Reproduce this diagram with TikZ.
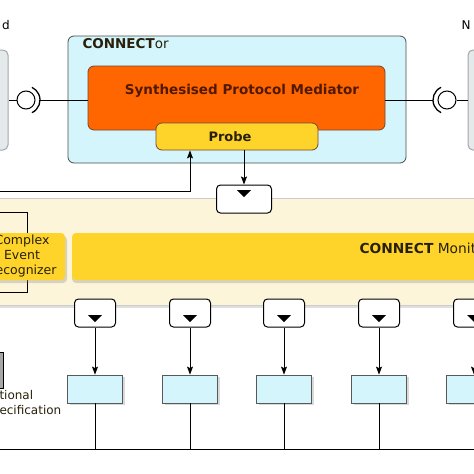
\documentclass[tikz,border=0pt]{standalone}
\usepackage{fontspec}
\setmainfont{DejaVu Sans}
\usetikzlibrary{positioning,shadows,arrows.meta}

\definecolor{connblue}{RGB}{213,245,252}
\definecolor{medorange}{RGB}{255,102,0}
\definecolor{medtext}{RGB}{80,25,0}
\definecolor{monyellow}{RGB}{255,212,42}
\definecolor{bandbeige}{RGB}{253,245,218}
\definecolor{sidegray}{RGB}{228,233,236}
\definecolor{darktext}{RGB}{40,32,10}

\tikzset{
  sidebox/.style={draw=gray!70, fill=sidegray, rounded corners=5pt, minimum width=30pt, minimum height=100pt},
  ball/.style={circle, draw, fill=white, line width=1pt, minimum size=18pt},
  socket/.style={line width=1.3pt},
  evbox/.style={draw, fill=white, line width=1pt, rounded corners=4pt, minimum width=41pt, minimum height=28pt},
  evhigh/.style={path picture={\fill[black, sharp corners] (path picture bounding box.north) ++(-7pt,-5pt) -- ++(14pt,0) -- ++(-7pt,-7pt) -- cycle;}},
  evlow/.style={path picture={\fill[black, sharp corners] (path picture bounding box.south) ++(-7pt,12pt) -- ++(14pt,0) -- ++(-7pt,-7pt) -- cycle;}},
  specbox/.style={draw=gray!70!black, fill=connblue, line width=0.8pt, minimum width=55pt, minimum height=28pt,
    drop shadow={shadow xshift=2pt, shadow yshift=-2pt, opacity=0.3}},
  flow/.style={-{Stealth[length=8pt,width=6pt,inset=1.5pt]}, line width=1pt},
}

\begin{document}
\begin{tikzpicture}[x=1pt,y=-1pt, every node/.style={inner sep=0pt}, line width=1pt]
  \useasboundingbox (0,0) rectangle (474,474);
  \clip (0,0) rectangle (474,474);

  % the two sides
  \node[sidebox] (left) at (-7,100) {};
  \node[sidebox] (right) at (483,100) {};
  \node[font=\fontsize{12}{14}\selectfont] (lname) at (6,25) {d};
  \node[font=\fontsize{12}{14}\selectfont] (rname) at (466,25) {N};

  % connector
  \node[draw=gray!60!black, fill=connblue, rounded corners=6pt, line width=0.8pt,
    minimum width=338pt, minimum height=127pt] (connector) at (237,99.5) {};
  \node[anchor=west, text=darktext, font=\fontsize{13.5}{15}\selectfont] (conntitle) at (82,44) {\textbf{CONNECT}or};
  \node[draw=medtext!80, fill=medorange, rounded corners=6pt, line width=0.8pt,
    minimum width=297pt, minimum height=64pt] (mediator) at (236.5,98) {};
  \node[text=medtext, font=\bfseries\fontsize{13.5}{15}\selectfont] (medname) at (242,91) {Synthesised Protocol Mediator};
  \node[draw=medtext!80, fill=monyellow, rounded corners=6pt, line width=0.8pt,
    minimum width=162pt, minimum height=27pt,
    label={[xshift=-7pt, text=darktext, font=\bfseries\fontsize{13}{15}\selectfont]center:Probe}] (probe) at (237,136.5) {};

  % ball and socket
  \node[ball] (lball) at (26,100) {};
  \draw[socket] (lball.center) ++(-65:14pt) arc[start angle=-65, end angle=65, radius=14pt];
  \coordinate (lsock) at (40,100);
  \draw (left.east |- lball) -- (lball.west);
  \draw (lsock) -- (mediator.west |- lsock);

  \node[ball] (rball) at (447,100) {};
  \draw[socket] (rball.center) ++(115:14pt) arc[start angle=115, end angle=245, radius=14pt];
  \coordinate (rsock) at (433,100);
  \draw (mediator.east |- rsock) -- (rsock);
  \draw (rball.east) -- (right.west |- rball);

  % monitor
  \node[draw=gray!40, fill=bandbeige, line width=0.6pt, minimum width=490pt, minimum height=107pt, anchor=north west,
    drop shadow={shadow xshift=0pt, shadow yshift=-3pt, opacity=0.25}] (band) at (-8,198) {};
  \draw (-5,212) -| (27,292) -- (-5,292);
  \node[fill=monyellow, rounded corners=4pt, minimum width=86pt, minimum height=47pt, align=center,
    text=darktext, font=\fontsize{12.5}{15}\selectfont,
    drop shadow={shadow xshift=2pt, shadow yshift=-3pt, opacity=0.3}] (cer) at (22,256.5) {Complex\\Event\\Recognizer};
  \node[fill=monyellow, rounded corners=4pt, minimum width=428pt, minimum height=47pt,
    drop shadow={shadow xshift=0pt, shadow yshift=-3pt, opacity=0.3}] (monitor) at (286,256.5) {};
  \node[anchor=west, text=darktext, font=\fontsize{13.8}{16}\selectfont] (monname) at (359,248) {\textbf{CONNECT} Monitor};

  % probe links
  \node[evbox, evhigh, minimum width=55pt] (probeout) at (244,199) {};
  \coordinate (feed) at (-5,191);
  \draw[flow] (feed) -| ([xshift=-47pt]probe.south);
  \draw[flow] (probeout.north |- probe.south) -- (probeout.north);

  % events and specifications
  \coordinate (bus) at (-5,449);
  \draw (bus) -- (480,449);
  \foreach \x [count=\i] in {95,190,284,379,474} {
    \node[evbox, evlow] (ev\i) at (\x,313) {};
    \node[specbox] (spec\i) at (\x,389) {};
    \draw[flow] (ev\i) -- (spec\i);
    \draw (spec\i.south) -- (spec\i.south |- bus);
  }

  % legend
  \node[draw, fill=gray!70, line width=0.8pt, minimum width=13pt, minimum height=36pt] (legend) at (-3.5,370) {};
  \node[anchor=west, text=darktext, font=\fontsize{12}{14}\selectfont] (legtop) at (-1,395) {tional};
  \node[anchor=west, text=darktext, font=\fontsize{12}{14}\selectfont] (legbot) at (-1,410) {ecification};
\end{tikzpicture}
\end{document}
